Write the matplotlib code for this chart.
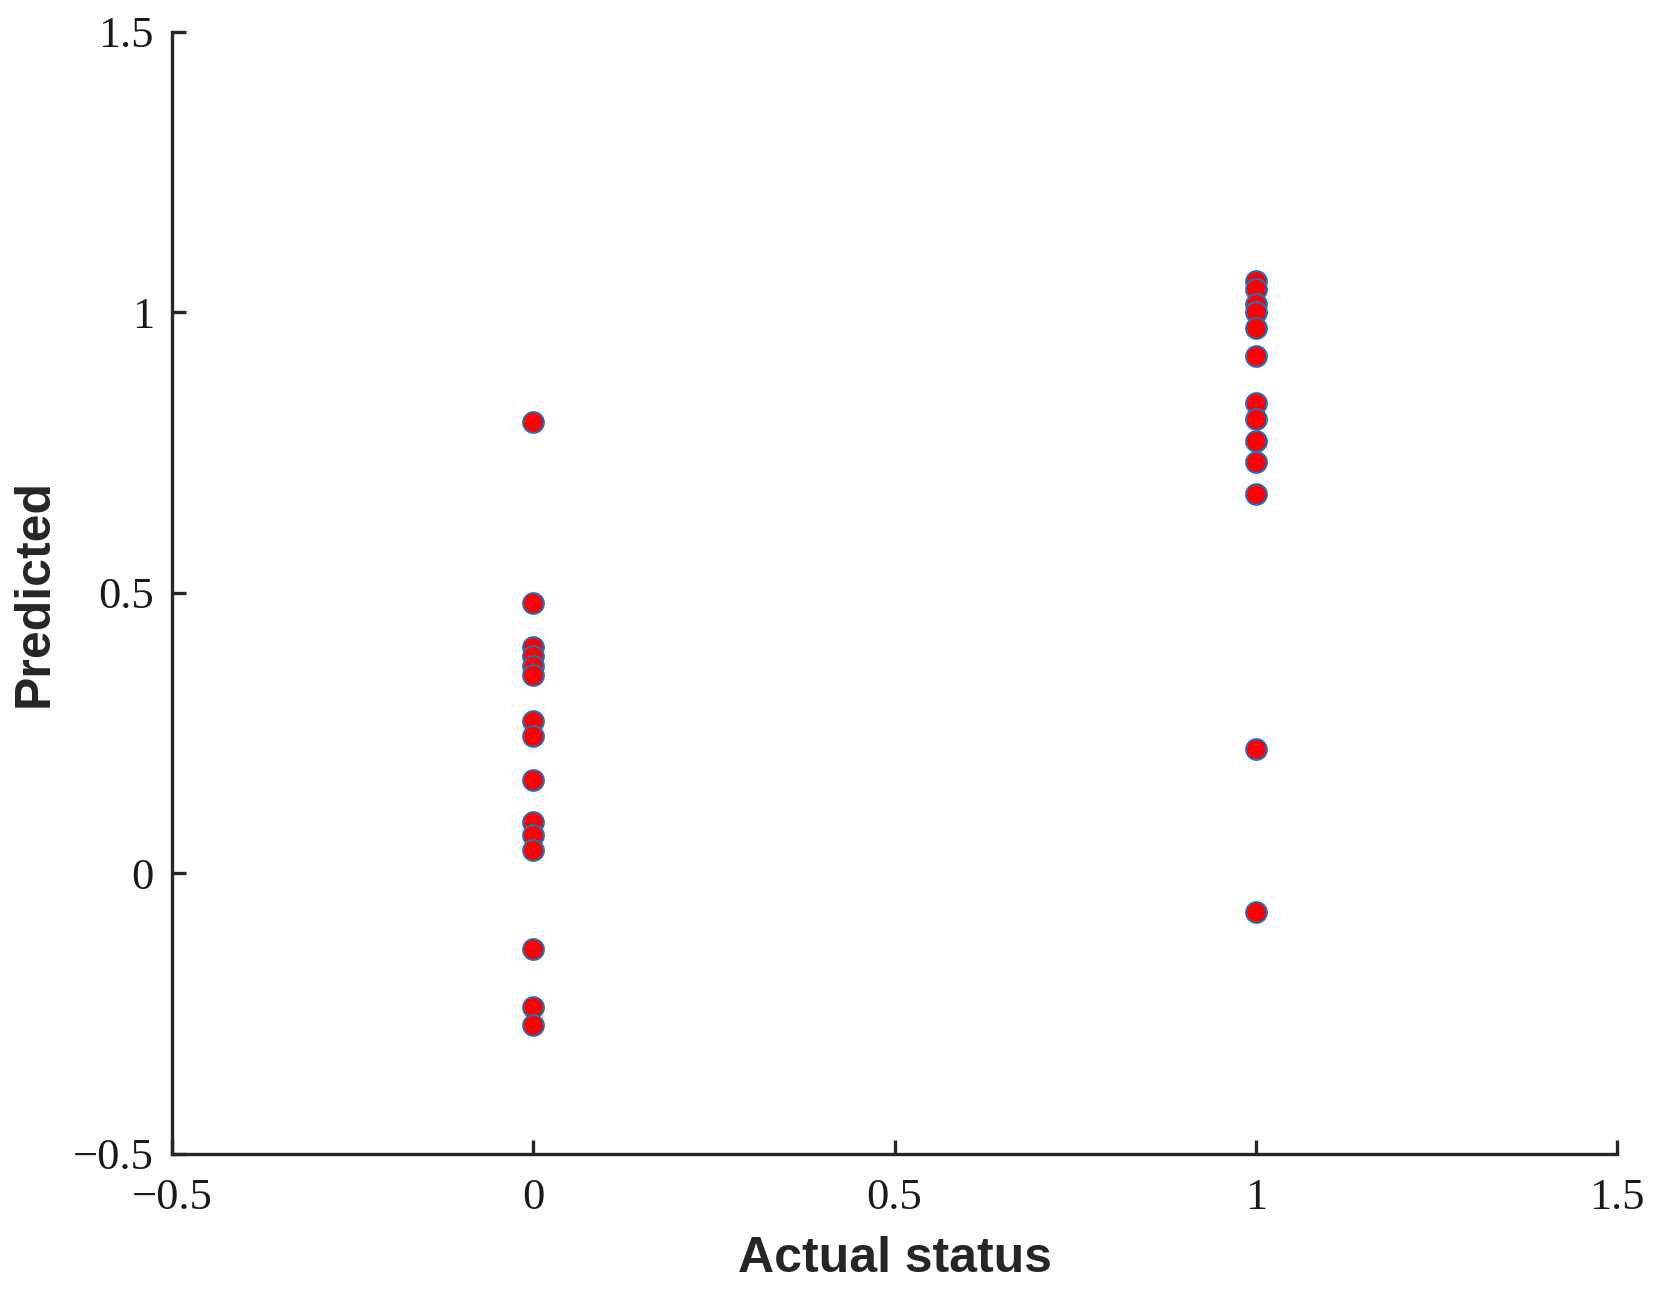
import matplotlib
matplotlib.use("Agg")
import matplotlib.pyplot as plt

# actual status (x) and predicted value (y)
actual_0 = [0] * 15
pred_0 = [0.805, 0.483, 0.404, 0.387, 0.370, 0.354, 0.272, 0.245, 0.167,
          0.091, 0.069, 0.042, -0.134, -0.238, -0.270]
actual_1 = [1] * 13
pred_1 = [1.057, 1.041, 1.015, 1.001, 0.973, 0.922, 0.839, 0.810, 0.771,
          0.734, 0.676, 0.222, -0.069]

x = actual_0 + actual_1
y = pred_0 + pred_1

ticks = [-0.5, 0, 0.5, 1, 1.5]
tick_labels = ["\u22120.5", "0", "0.5", "1", "1.5"]

fig = plt.figure(figsize=(16.65, 12.95), dpi=100)
ax = fig.add_axes([0.1033, 0.1089, 0.8679, 0.8664])

ax.plot(x, y, "o", markersize=15, markerfacecolor="#ff0000",
        markeredgecolor="#1a76c0", markeredgewidth=1.4, linestyle="none",
        clip_on=False)

ax.set_xlim(-0.5, 1.5)
ax.set_ylim(-0.5, 1.5)
ax.set_xticks(ticks)
ax.set_xticklabels(tick_labels)
ax.set_yticks(ticks)
ax.set_yticklabels(tick_labels)

for side in ["top", "right"]:
    ax.spines[side].set_visible(False)
for side in ["left", "bottom"]:
    ax.spines[side].set_linewidth(2.4)
    ax.spines[side].set_color("#262626")

ax.tick_params(direction="in", length=10, width=2.4, color="#262626",
               labelsize=32, labelcolor="#1a1a1a")
ax.tick_params(axis="x", pad=17)
ax.tick_params(axis="y", pad=13)
for lab in ax.get_xticklabels() + ax.get_yticklabels():
    lab.set_family("Liberation Serif")

ax.set_xlabel("Actual status", fontsize=36, fontweight="bold",
              family="Liberation Sans", color="#262626", labelpad=13)
ax.set_ylabel("Predicted", fontsize=36, fontweight="bold",
              family="Liberation Sans", color="#262626", labelpad=11)

fig.savefig("out.png", dpi=100, facecolor="white")
